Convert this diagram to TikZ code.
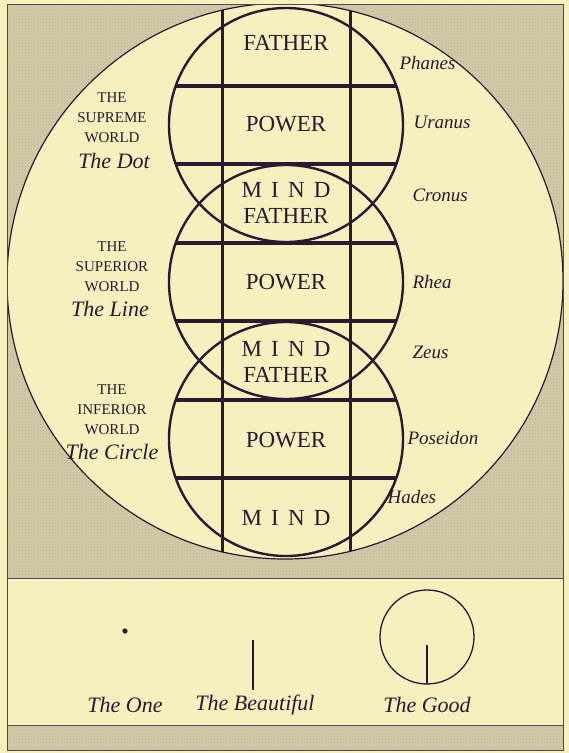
\documentclass[tikz,border=0pt]{standalone}
\usepackage{fontspec}
\setmainfont{Liberation Serif}
\usetikzlibrary{patterns}

\definecolor{paper}{RGB}{246,240,190}
\definecolor{stipple}{RGB}{214,202,162}
\definecolor{ink}{RGB}{40,26,48}

\tikzset{
  capital/.style={text=ink, font=\fontsize{23}{26}\selectfont},
  world/.style={text=ink, align=center, font=\fontsize{15}{20}\selectfont},
  hand/.style={text=ink, font=\fontsize{22}{24}\selectfont\itshape},
  god/.style={text=ink, anchor=west, font=\fontsize{19}{20}\selectfont\itshape},
  chord/.style={draw=ink, line width=3.4pt},
  ring/.style={draw=ink, line width=2.4pt},
  frameline/.style={draw=ink!80, line width=.8pt}
}
\newcommand{\spaced}{\hspace{.4em}}

\begin{document}
\begin{tikzpicture}[x=1pt, y=-1pt]
  \useasboundingbox (0,0) rectangle (569,753);
  \fill[paper] (0,0) rectangle (569,753);
  \begin{scope}
    \clip (7,4) rectangle (563,750);
    \fill[stipple, even odd rule] (7,4) rectangle (563,578) (285,281) circle (278pt);
    \fill[stipple] (7,725) rectangle (563,750);
    \fill[pattern=crosshatch dots, pattern color=ink!35, even odd rule] (7,4) rectangle (563,578) (285,281) circle (278pt);
    \fill[pattern=crosshatch dots, pattern color=ink!35] (7,725) rectangle (563,750);
    \draw[ink, line width=1.2pt] (285,281) circle (278pt);
  \end{scope}
  \draw[frameline] (7,4) rectangle (563,750);
  \draw[frameline] (7,578) -- (563,578);
  \draw[frameline] (7,725) -- (563,725);

  \foreach \c in {125,282,439} {
    \draw[ring] (286,\c) circle (117pt);
    \draw[chord] (176,\c-39) -- (396,\c-39);
    \draw[chord] (176,\c+39) -- (396,\c+39);
  }
  \begin{scope}
    \clip (285,281) circle (278pt);
    \draw[chord, line width=3pt] (222,0) -- (222,578);
    \draw[chord, line width=3pt] (350,0) -- (350,578);
  \end{scope}

  \node[capital] (father1) at (286,43) {FATHER};
  \node[capital] (power1) at (286,124) {POWER};
  \node[capital] (mind1) at (286,190) {M\spaced I\spaced N\spaced D};
  \node[capital] (father2) at (286,216) {FATHER};
  \node[capital] (power2) at (286,282) {POWER};
  \node[capital] (mind2) at (286,349) {M\spaced I\spaced N\spaced D};
  \node[capital] (father3) at (286,375) {FATHER};
  \node[capital] (power3) at (286,440) {POWER};
  \node[capital] (mind3) at (286,518) {M\spaced I\spaced N\spaced D};

  \node[world] (supreme) at (112,118) {THE\\SUPREME\\WORLD};
  \node[hand] (dot) at (114,161) {The Dot};
  \node[world] (superior) at (112,267) {THE\\SUPERIOR\\WORLD};
  \node[hand] (line) at (110,309) {The Line};
  \node[world] (inferior) at (112,410) {THE\\INFERIOR\\WORLD};
  \node[hand] (circle) at (112,452) {The Circle};

  \node[god] (phanes) at (396,63) {Phanes};
  \node[god] (uranus) at (410,122) {Uranus};
  \node[god] (cronus) at (409,195) {Cronus};
  \node[god] (rhea) at (409,282) {Rhea};
  \node[god] (zeus) at (409,352) {Zeus};
  \node[god] (poseidon) at (404,438) {Poseidon};
  \node[god] (hades) at (384,497) {Hades};

  \fill[ink] (125,631) circle (2.6pt);
  \draw[ink, line width=1.3pt] (253,640) -- (253,690);
  \draw[ink, line width=1.3pt] (427,637) circle (47pt);
  \draw[ink, line width=1.3pt] (427,645) -- (427,684);

  \node[hand] (one) at (125,705) {The One};
  \node[hand] (beautiful) at (255,705) {The Beautiful};
  \node[hand] (good) at (427,705) {The Good};
\end{tikzpicture}
\end{document}
